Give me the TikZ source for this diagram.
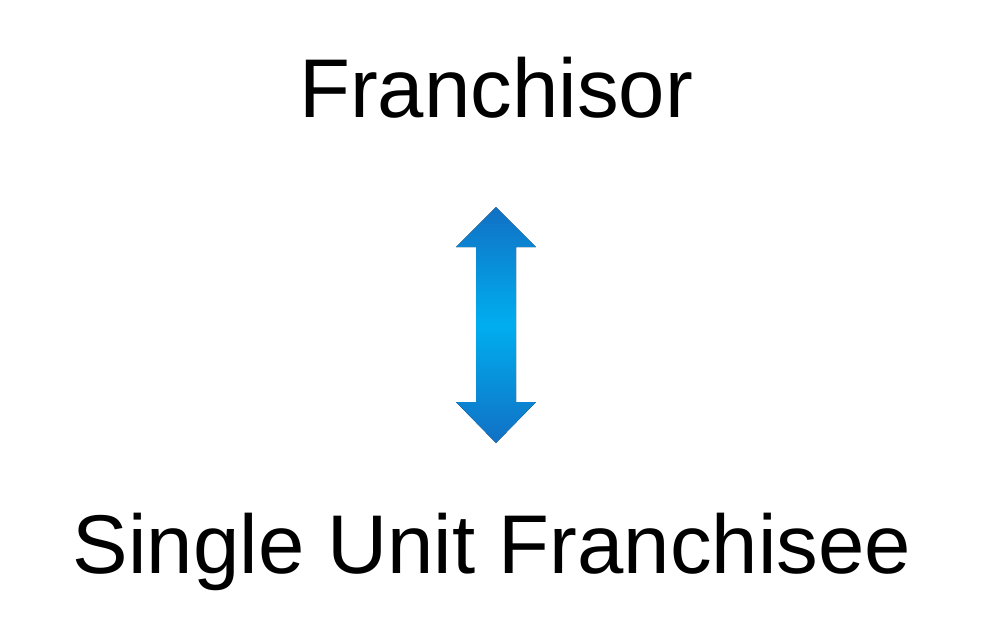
\documentclass[tikz,border=0pt]{standalone}
\usepackage{fontspec}
\setmainfont{Liberation Sans}
\definecolor{arrowdark}{HTML}{1170C4}
\definecolor{arrowlight}{HTML}{00AEEF}
\tikzset{
  partylabel/.style={anchor=base,inner sep=0pt,font=\fontsize{62.5}{62.5}\selectfont},
  bigarrow/.style={top color=arrowdark,bottom color=arrowdark,middle color=arrowlight,draw=none}
}
\begin{document}
\begin{tikzpicture}[x=0.75pt,y=-0.75pt]
      \useasboundingbox (0,0) rectangle (982,640);
      \node[partylabel] (franchisor) at (496,117) {Franchisor};
      \node[partylabel] (franchisee) at (492,573) {Single Unit Franchisee};
      \coordinate (toptip) at (496,207);
      \coordinate (bottip) at (496,443);
      \fill[bigarrow] (toptip) -- (536,247) -- (516,247) -- (516,402) -- (536,402)
        -- (bottip) -- (456,402) -- (476,402) -- (476,247) -- (456,247) -- cycle;
    \end{tikzpicture}
\end{document}
